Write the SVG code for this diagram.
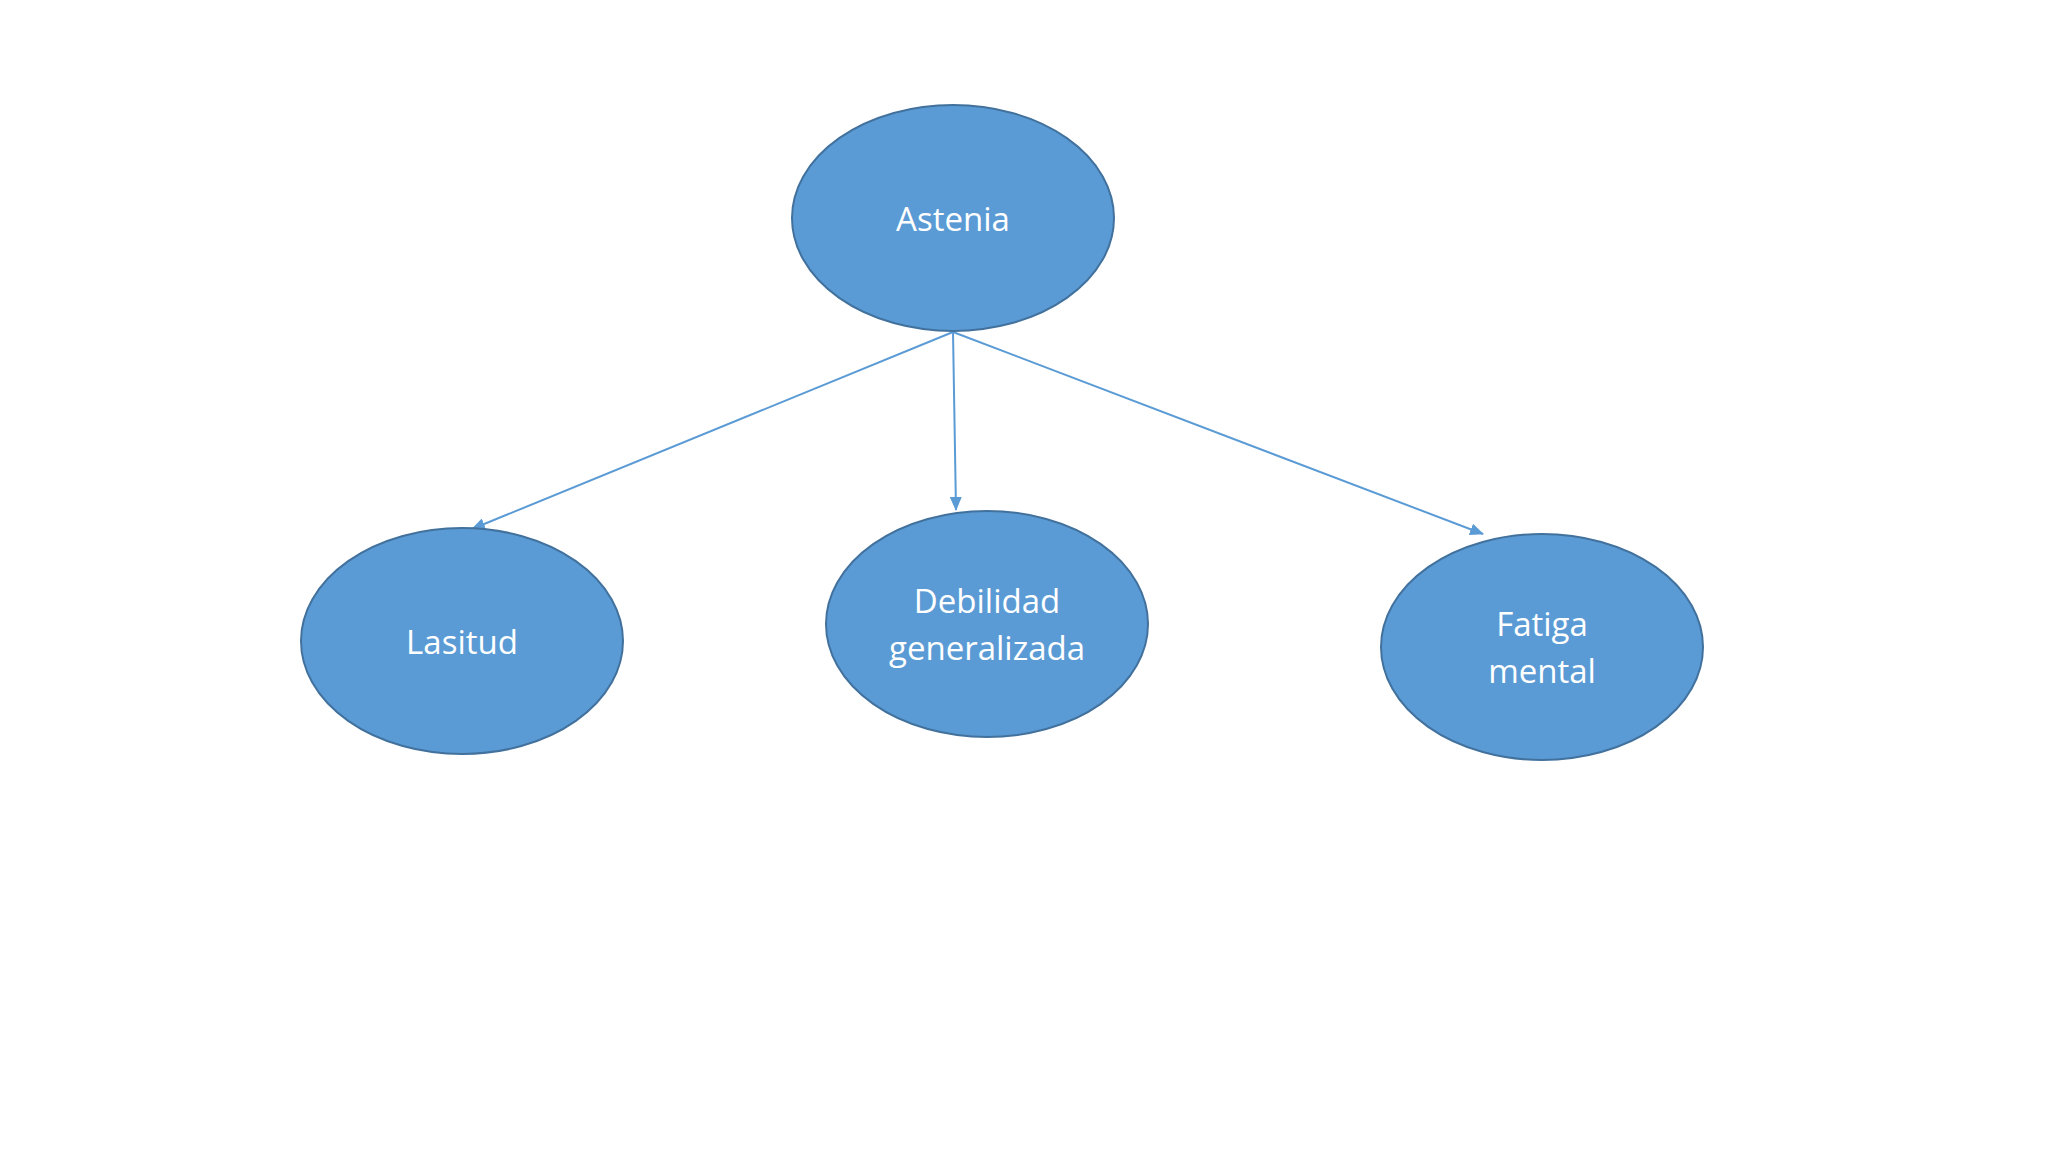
<svg xmlns="http://www.w3.org/2000/svg" width="2048" height="1152" viewBox="0 0 2048 1152">
<style>
.node{fill:#5B9BD5;stroke:#41719C;stroke-width:2}
.lbl{font-family:"Open Sans","Liberation Sans",sans-serif;font-size:33px;fill:#FFFFFF;text-anchor:middle}
.edge{stroke:#5B9BD5;stroke-width:2;fill:none;marker-end:url(#arr)}
</style>
<defs>
<marker id="arr" markerUnits="userSpaceOnUse" markerWidth="14" markerHeight="12" refX="13" refY="6" orient="auto">
<path d="M0,0 L14,6 L0,12 Z" fill="#5B9BD5"/>
</marker>
</defs>
<rect width="2048" height="1152" fill="#FFFFFF"/>
<g id="connectors">
<line class="edge" x1="953" y1="332" x2="472" y2="529"/>
<line class="edge" x1="953" y1="332" x2="956" y2="510"/>
<line class="edge" x1="953" y1="332" x2="1483" y2="534"/>
</g>
<g id="astenia">
<ellipse class="node" cx="953" cy="218" rx="161" ry="113"/>
<text class="lbl" x="953" y="231">Astenia</text>
</g>
<g id="lasitud">
<ellipse class="node" cx="462" cy="641" rx="161" ry="113"/>
<text class="lbl" x="462" y="654">Lasitud</text>
</g>
<g id="debilidad">
<ellipse class="node" cx="987" cy="624" rx="161" ry="113"/>
<text class="lbl" x="987" y="613">Debilidad</text>
<text class="lbl" x="987" y="660">generalizada</text>
</g>
<g id="fatiga">
<ellipse class="node" cx="1542" cy="647" rx="161" ry="113"/>
<text class="lbl" x="1542" y="636">Fatiga</text>
<text class="lbl" x="1542" y="683">mental</text>
</g>
</svg>
